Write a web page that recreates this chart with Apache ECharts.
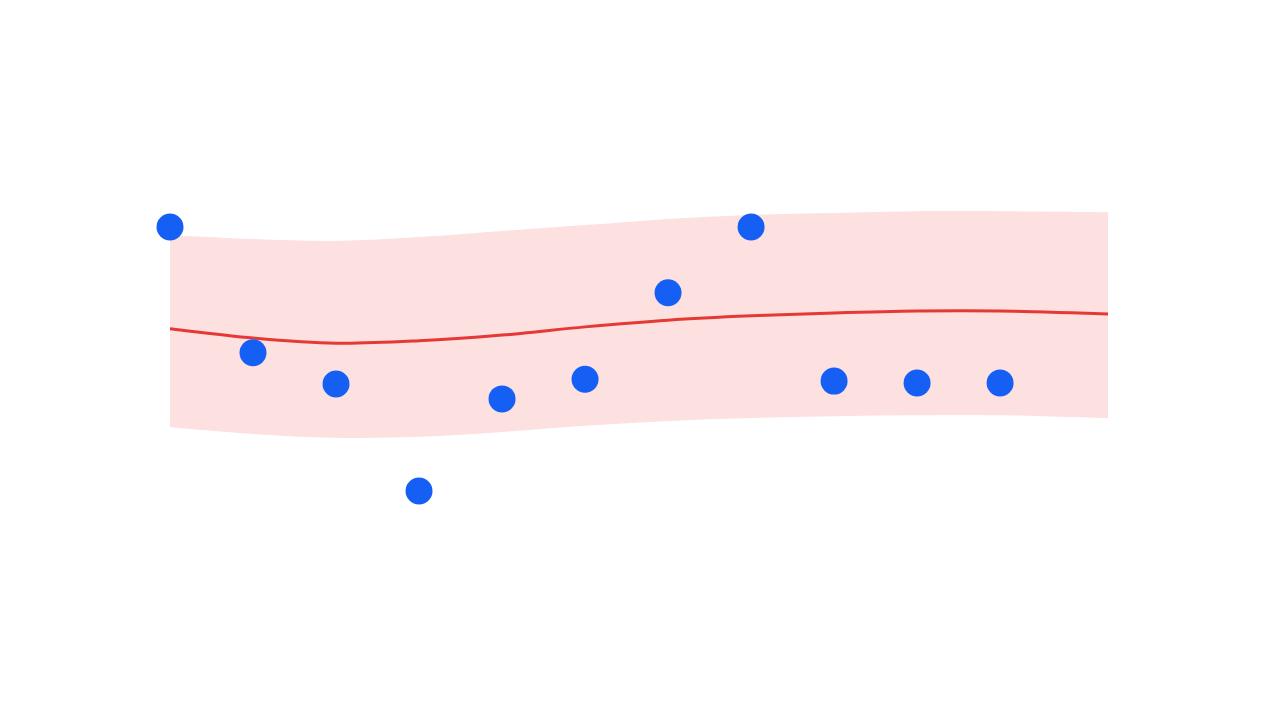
<!DOCTYPE html>
<html>
<head>
<meta charset="utf-8">
<script src="https://cdn.jsdelivr.net/npm/echarts@6/dist/echarts.min.js"></script>
<style>html,body{margin:0;padding:0;background:#fff}#c{width:1280px;height:720px}</style>
</head>
<body>
<div id="c"></div>
<script>
// Observed points
const pointX = [0, 1, 2, 3, 4, 5, 6, 7, 8, 9, 10];
const pointY = [7.77, 5.15, 4.5, 2.27, 4.19, 4.6, 6.4, 7.77, 4.56, 4.52, 4.52];
// Fitted curve and band
const fitX = [0, 1, 2, 3, 4, 5, 6, 7, 8, 9, 10, 11.3];
const fitY = [5.65, 5.46, 5.35, 5.40, 5.52, 5.69, 5.83, 5.92, 5.98, 6.02, 6.02, 5.96];
const bandLower = [3.60, 3.46, 3.38, 3.40, 3.50, 3.63, 3.73, 3.79, 3.83, 3.85, 3.85, 3.79];
const bandUpper = [7.60, 7.52, 7.48, 7.56, 7.69, 7.81, 7.94, 8.02, 8.06, 8.10, 8.10, 8.08];

// Catmull-Rom -> cubic Bezier path through pixel points
function curvePath(p, moveFirst) {
  let d = (moveFirst ? 'M' : 'L') + p[0][0] + ',' + p[0][1];
  for (let i = 0; i < p.length - 1; i++) {
    const p0 = p[Math.max(i - 1, 0)], p1 = p[i], p2 = p[i + 1], p3 = p[Math.min(i + 2, p.length - 1)];
    const c1x = p1[0] + (p2[0] - p0[0]) / 6, c1y = p1[1] + (p2[1] - p0[1]) / 6;
    const c2x = p2[0] - (p3[0] - p1[0]) / 6, c2y = p2[1] - (p3[1] - p1[1]) / 6;
    d += 'C' + c1x + ',' + c1y + ' ' + c2x + ',' + c2y + ' ' + p2[0] + ',' + p2[1];
  }
  return d;
}

const chart = echarts.init(document.getElementById('c'));
const pts = pointX.map((x, i) => [x, pointY[i]]);

chart.setOption({
  animation: false,
  backgroundColor: '#ffffff',
  grid: { left: 170, right: 172, top: 120, bottom: 120 },
  xAxis: { type: 'value', min: 0, max: 11.3, show: false },
  yAxis: { type: 'value', min: 0, max: 10, show: false },
  series: [
    {
      type: 'custom',
      silent: true,
      z: 1,
      renderItem: function (params, api) {
        const up = fitX.map((x, i) => api.coord([x, bandUpper[i]]));
        const lo = fitX.map((x, i) => api.coord([x, bandLower[i]])).reverse();
        const d = curvePath(up, true) + curvePath(lo, false) + 'Z';
        const mid = fitX.map((x, i) => api.coord([x, fitY[i]]));
        return {
          type: 'group',
          children: [
            { type: 'path', shape: { pathData: d }, style: { fill: '#fde0e0' } },
            { type: 'path', shape: { pathData: curvePath(mid, true) },
              style: { fill: null, stroke: '#e53935', lineWidth: 3 } }
          ]
        };
      },
      data: [0]
    },
    { type: 'scatter', data: pts, symbolSize: 27, clip: false, z: 5,
      itemStyle: { color: '#155ff5', opacity: 1 } }
  ]
});
</script>
</body>
</html>
